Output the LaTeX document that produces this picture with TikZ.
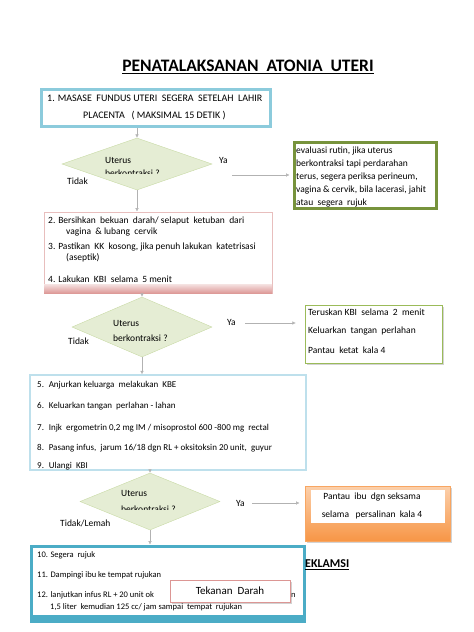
\documentclass[tikz,border=0pt]{standalone}
\usepackage{fontspec}
\setmainfont{Carlito}
\usetikzlibrary{arrows.meta, calc, positioning, shapes.geometric, shadows}
\definecolor{lightteal}{RGB}{140,203,220}
\definecolor{tealline}{RGB}{75,172,198}
\definecolor{paleblue}{RGB}{190,224,236}
\definecolor{olive}{RGB}{119,147,60}
\definecolor{lightolive}{RGB}{155,187,89}
\definecolor{diafill}{RGB}{229,237,212}
\definecolor{diaedge}{RGB}{200,218,165}
\definecolor{pinkline}{RGB}{232,190,189}
\definecolor{pinkband}{RGB}{220,150,148}
\definecolor{orangefill}{RGB}{247,150,70}

\begin{document}
\begin{tikzpicture}[
    x=1pt, y=-1pt,
    >={Latex[width=3.4pt,length=3.4pt]},
    every node/.style={font=\fontsize{9.5}{11}\selectfont, inner sep=0pt},
    line/.style={anchor=west},
    small/.style={font=\fontsize{9}{11}\selectfont},
    tiny/.style={font=\fontsize{8.5}{10}\selectfont},
    arr/.style={->, gray!60, thin},
    dec/.style={diamond, draw=diaedge, fill=diafill},
    sh/.style={drop shadow={shadow xshift=1.5pt, shadow yshift=-1.5pt, opacity=.35}},
]
\useasboundingbox (0,0) rectangle (474,632);
% title
\node (title) at (248,67)
   {\fontsize{17.5}{19}\selectfont\bfseries\underline{PENATALAKSANAN~ ATONIA~ UTERI}};
% step 1: massage
\node[draw=lightteal, line width=3pt, fill=white, sh,
      minimum width=229pt, minimum height=37pt] (b1) at (156,108) {};
\node[line, font=\fontsize{10}{12}\selectfont] (b1a) at (47,98) {1. MASASE~ FUNDUS UTERI~ SEGERA~ SETELAH~ LAHIR};
\node[line, font=\fontsize{10}{12}\selectfont] (b1b) at (83,116) {PLACENTA~~ ( MAKSIMAL 15 DETIK )};
% first check
\node[dec, minimum width=150pt, minimum height=52pt] (d1) at (137,164) {};
\node[line] (d1a) at (105,160) {Uterus};
\begin{scope}
\clip (60,140) rectangle (215,173);
\node[line] (d1b) at (105,173) {berkontraksi ?};
\end{scope}
\node[line] (ya1) at (219,160) {Ya};
\node[line] (no1) at (67,181) {Tidak};
\node[draw=olive, line width=3pt, fill=white, sh,
      minimum width=142pt, minimum height=66pt] (ev) at (365,175) {};
\node[line] (ev1) at (296,151) {evaluasi rutin, jika uterus};
\node[line] (ev2) at (296,164) {berkontraksi tapi perdarahan};
\node[line] (ev3) at (296,177) {terus, segera periksa perineum,};
\node[line] (ev4) at (296,190) {vagina \& cervik, bila lacerasi, jahit};
\node[line] (ev5) at (296,203) {atau~ segera~ rujuk};
\coordinate (ya1s) at (232,175);
\draw[arr, shorten >=3pt] (ya1s) -- (ev.west);
\draw[arr] (b1.south -| d1.north) -- (d1.north);
% steps 2-4
\node[draw=pinkline, line width=1pt, fill=white,
      minimum width=228pt, minimum height=81pt] (b2) at (158,252.5) {};
\shade[top color=pinkline!50, bottom color=pinkband]
   ($(b2.south west)+(0.5,-9)$) rectangle ($(b2.south east)+(-0.5,0)$);
\node[line] (b2a) at (48,221) {2. Bersihkan~ bekuan~ darah/ selaput~ ketuban~ dari};
\node[line] (b2b) at (66,232) {vagina~ \& lubang~ cervik};
\node[line] (b2c) at (48,247) {3. Pastikan~ KK~ kosong, jika penuh lakukan~ katetrisasi};
\node[line] (b2d) at (66,258) {(aseptik)};
\node[line] (b2e) at (48,279) {4. Lakukan~ KBI~ selama~ 5 menit};
\draw[arr] (d1.south) -- (d1.south |- b2.north);
% second check
\node[dec, minimum width=140pt, minimum height=60pt] (d2) at (142,327) {};
\node[line] (d2a) at (113,323) {Uterus};
\begin{scope}
\clip (70,300) rectangle (215,340);
\node[line] (d2b) at (113,338) {berkontraksi ?};
\end{scope}
\node[line] (ya2) at (227,322) {Ya};
\node[line] (no2) at (68,341) {Tidak};
\node[draw=lightolive, line width=1.5pt, fill=white, sh,
      minimum width=137pt, minimum height=58pt] (te) at (374,334.5) {};
\node[line] (te1) at (308,312) {Teruskan KBI~ selama~ 2~ menit};
\node[line] (te2) at (308,331) {Keluarkan~ tangan~ perlahan};
\node[line] (te3) at (308,350) {Pantau~ ketat~ kala 4};
\coordinate (ya2s) at (245,323);
\draw[arr, shorten >=9pt] (ya2s) -- (te.west |- ya2s);
\draw[arr] (b2.south -| d2.north) -- (d2.north);
% steps 5-9
\node[draw=paleblue, line width=1.5pt, fill=white,
      minimum width=276pt, minimum height=95pt] (b3) at (168,422.5) {};
\node[line, small] (b3a) at (37,385) {5.~ Anjurkan keluarga~ melakukan~ KBE};
\node[line, small] (b3b) at (37,406) {6.~ Keluarkan tangan~ perlahan - lahan};
\node[line, small] (b3c) at (37,428) {7.~ Injk~ ergometrin 0,2 mg IM / misoprostol 600 -800 mg~ rectal};
\node[line, small] (b3d) at (37,448) {8.~ Pasang infus,~ jarum 16/18 dgn RL + oksitoksin 20 unit,~ guyur};
\node[line, small] (b3e) at (37,466) {9.~ Ulangi~ KBI};
\draw[arr] (d2.south) -- (d2.south |- b3.north);
% third check
\node[dec, minimum width=140pt, minimum height=57pt] (d3) at (150,501.5) {};
\node[line] (d3a) at (121,493) {Uterus};
\begin{scope}
\clip (78,475) rectangle (222,509);
\node[line] (d3b) at (121,509) {berkontraksi ?};
\end{scope}
\node[line] (ya3) at (236,503) {Ya};
\node[line] (no3) at (60,523) {Tidak/Lemah};
\node[draw=orangefill!85, line width=1pt, top color=orangefill!45, bottom color=orangefill, sh,
      minimum width=145pt, minimum height=55pt] (pa) at (377.5,513.5) {};
\node[fill=white, minimum width=134pt, minimum height=33pt] (pin) at (378,506.5) {};
\node (pa1) at (372,497) {Pantau~ ibu~ dgn seksama};
\node (pa2) at (372,515) {selama~~ persalinan~ kala 4};
\coordinate (ya3s) at (252,503);
\draw[arr, shorten >=5pt] (ya3s) -- (pa.west |- ya3s);
\draw[arr] (b3.south -| d3.north) -- (d3.north);
% steps 10-12
\node[draw=tealline, line width=3pt, fill=white,
      minimum width=273pt, minimum height=75pt] (b4) at (167.5,583.5) {};
\fill[tealline] ($(b4.south west)+(0,-8)$) rectangle (b4.south east);
\node[line, tiny] (b4a) at (37,555) {10. Segera~ rujuk};
\node[line, tiny] (b4b) at (37,575) {11. Dampingi ibu ke tempat rujukan};
\node[line, tiny] (b4c) at (37,595) {12. lanjutkan infus RL + 20 unit ok};
\node[line, tiny] (b4d) at (291,595) {n};
\node[line, tiny] (b4e) at (50,607) {1,5 liter~ kemudian 125 cc/ jam sampai~ tempat~ rujukan};
\draw[arr] (d3.south) -- (d3.south |- b4.north);
% overlapping box
\node[draw=pinkband, fill=white, sh, minimum width=120pt, minimum height=22pt,
      font=\fontsize{11}{13}\selectfont] (td) at (230,591) {Tekanan~ Darah};
\node[line, font=\fontsize{12}{14}\selectfont\bfseries] (ekl) at (305,565) {\underline{EKLAMSI}};
\end{tikzpicture}
\end{document}
